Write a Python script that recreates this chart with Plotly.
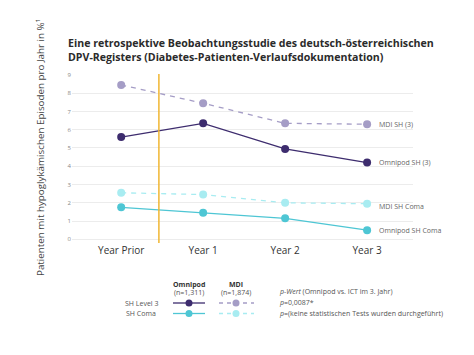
import plotly.graph_objects as go

# ---------------- data ----------------
years = ["Year Prior", "Year 1", "Year 2", "Year 3"]
omnipod_sh3 = [5.6, 6.35, 4.95, 4.2]
mdi_sh3 = [8.45, 7.45, 6.35, 6.3]
omnipod_coma = [1.75, 1.45, 1.15, 0.5]
mdi_coma = [2.55, 2.45, 2.0, 1.95]
y_ticks = list(range(0, 10))
series_labels = ["MDI SH (3)", "Omnipod SH (3)", "MDI SH Coma", "Omnipod SH Coma"]
title_text = ("<b>Eine retrospektive Beobachtungsstudie des deutsch-österreichischen<br>"
              "DPV-Registers (Diabetes-Patienten-Verlaufsdokumentation)</b>")
y_title = "Patienten mit hypoglykämischen Episoden pro Jahr in %¹"

# ---------------- style ----------------
C_OMNI3 = "#3d2c6e"
C_MDI3 = "#a59dc6"
C_OMNIC = "#4ec6d4"
C_MDIC = "#a8ecf1"
C_ORANGE = "#f0b632"
FONT = "Open Sans"
W, H = 474, 355
L, R, T, B = 72, 61, 74, 112
PW, PH = W - L - R, H - T - B


def px(x):
    return (x - L) / PW


def py(y):
    return (H - B - y) / PH


xpos = list(range(len(years)))
fig = go.Figure()


def add_series(vals, color, dash):
    fig.add_trace(go.Scatter(
        x=xpos, y=vals, mode="lines+markers",
        line=dict(color=color, width=1.3, dash=dash),
        marker=dict(color=color, size=8),
        showlegend=False, hoverinfo="skip"))


add_series(mdi_sh3, C_MDI3, "5px,5px")
add_series(mdi_coma, C_MDIC, "5px,5px")
add_series(omnipod_sh3, C_OMNI3, "solid")
add_series(omnipod_coma, C_OMNIC, "solid")

# vertical divider between year prior and year 1
fig.add_shape(type="line", xref="x", yref="paper", x0=0.46, x1=0.46, y0=0, y1=1,
              line=dict(color=C_ORANGE, width=1.5))

# end labels
ends = [(mdi_sh3[-1], series_labels[0], 0), (omnipod_sh3[-1], series_labels[1], 0),
        (mdi_coma[-1], series_labels[2], -3), (omnipod_coma[-1], series_labels[3], 0)]
for v, lab, ys in ends:
    fig.add_annotation(x=xpos[-1], y=v, text=lab, showarrow=False, xanchor="left", yanchor="middle",
                       xshift=10, yshift=ys, font=dict(family=FONT, size=7, color="#666"))

# title
fig.add_annotation(xref="paper", yref="paper", x=px(66), y=py(50), xanchor="left", yanchor="middle",
                   text=title_text, showarrow=False, align="left",
                   font=dict(family=FONT, size=10.6, color="#2b2b2b"))

# y title
fig.add_annotation(xref="paper", yref="paper", x=px(40), y=py(148), text=y_title, textangle=-90,
                   xanchor="center", yanchor="middle",
                   showarrow=False, font=dict(family=FONT, size=9.8, color="#444"))

# ---------------- custom legend ----------------
lf = dict(family=FONT, size=7, color="#555")
for cx, name, n in [(189, "<b>Omnipod</b>", "(n=1,311)"), (236, "<b>MDI</b>", "(n=1,874)")]:
    fig.add_annotation(xref="paper", yref="paper", x=px(cx), y=py(284), text=name, showarrow=False,
                       xanchor="center", yanchor="middle",
                       font=dict(family=FONT, size=7, color="#333"))
    fig.add_annotation(xref="paper", yref="paper", x=px(cx), y=py(292.5), text=n, showarrow=False,
                       xanchor="center", yanchor="middle", font=lf)

rows = [(303, "SH Level 3", C_OMNI3, C_MDI3), (313.5, "SH Coma", C_OMNIC, C_MDIC)]
for yy, name, c1, c2 in rows:
    fig.add_annotation(xref="paper", yref="paper", x=px(141), y=py(yy), text=name, showarrow=False,
                       xanchor="center", yanchor="middle", font=lf)
    fig.add_shape(type="line", xref="paper", yref="paper", x0=px(173), x1=px(205), y0=py(yy), y1=py(yy),
                  line=dict(color=c1, width=1.3))
    fig.add_shape(type="line", xref="paper", yref="paper", x0=px(219), x1=px(254), y0=py(yy), y1=py(yy),
                  line=dict(color=c2, width=1.3, dash="4px,4px"))
    for cx, c in [(189, c1), (236, c2)]:
        fig.add_shape(type="circle", xref="paper", yref="paper", xsizemode="pixel", ysizemode="pixel",
                      xanchor=px(cx), yanchor=py(yy), x0=-3.5, x1=3.5, y0=-3.5, y1=3.5,
                      line=dict(width=0), fillcolor=c)

for yy, txt in [(291, "<i>p-Wert</i> (Omnipod vs. ICT im 3. Jahr)"), (302.5, "<i>p</i>=0,0087*"),
                (313.5, "<i>p</i>=(keine statistischen Tests wurden durchgeführt)")]:
    fig.add_annotation(xref="paper", yref="paper", x=px(277), y=py(yy), xanchor="left", yanchor="middle",
                       text=txt, showarrow=False, font=lf)

fig.update_layout(
    width=W, height=H, margin=dict(l=L, r=R, t=T, b=B),
    paper_bgcolor="white", plot_bgcolor="white",
    font=dict(family=FONT),
    xaxis=dict(range=[-0.6, 3.56], tickmode="array", tickvals=xpos, ticktext=years,
               showgrid=False, zeroline=False, showline=False,
               tickfont=dict(family=FONT, size=10, color="#333"), ticklen=0),
    yaxis=dict(range=[-0.2, 9.05], tickmode="array", tickvals=y_ticks,
               showgrid=True, gridcolor="#ececec", gridwidth=1, zeroline=False, showline=False,
               tickfont=dict(family=FONT, size=6, color="#888"), ticklen=0, ticks=""),
)

fig.write_html("out.html", config={"displayModeBar": False},
               post_script="document.body.style.margin='0';document.body.style.overflow='hidden';")
